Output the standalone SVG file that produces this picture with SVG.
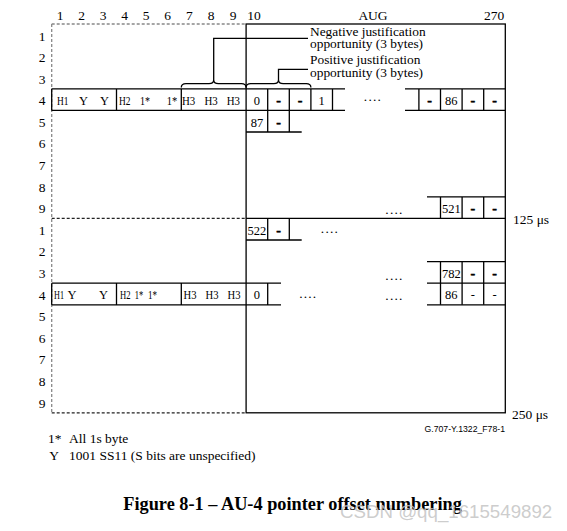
<svg xmlns="http://www.w3.org/2000/svg" width="567" height="531" viewBox="0 0 567 531">
<style>
text{font-family:"Liberation Serif","Times New Roman",serif;font-size:13.5px;fill:#000}
.c{text-anchor:middle;font-size:12.5px}
.h{font-size:12.5px}
.m{text-anchor:middle}
.b{font-weight:bold;font-size:14px;stroke:#000;stroke-width:0.5}
.ln{stroke:#000;stroke-width:1.3;fill:none}
.dg{stroke:#888;stroke-width:1.3;stroke-dasharray:3 2;fill:none}
.dk{stroke:#222;stroke-width:1.2;stroke-dasharray:3 2;fill:none}
.dots{text-anchor:middle;letter-spacing:1.2px}
.ann{font-size:13.4px}
</style>
<rect width="567" height="531" fill="#fff"/>

<g id="column-numbers">
<text class="m" x="60" y="20">1</text>
<text class="m" x="81.5" y="20">2</text>
<text class="m" x="103" y="20">3</text>
<text class="m" x="124.5" y="20">4</text>
<text class="m" x="146" y="20">5</text>
<text class="m" x="167.5" y="20">6</text>
<text class="m" x="189.3" y="20">7</text>
<text class="m" x="211" y="20">8</text>
<text class="m" x="233" y="20">9</text>
<text class="m" x="254" y="20">10</text>
<text class="m" x="373" y="20">AUG</text>
<text class="m" x="494" y="20">270</text>
</g>

<g id="row-numbers">
<text class="m" x="42" y="40.5">1</text>
<text class="m" x="42" y="62">2</text>
<text class="m" x="42" y="83.6">3</text>
<text class="m" x="42" y="105.2">4</text>
<text class="m" x="42" y="126.8">5</text>
<text class="m" x="42" y="148.4">6</text>
<text class="m" x="42" y="170">7</text>
<text class="m" x="42" y="191.6">8</text>
<text class="m" x="42" y="213.2">9</text>
<text class="m" x="42" y="234.8">1</text>
<text class="m" x="42" y="256.4">2</text>
<text class="m" x="42" y="278">3</text>
<text class="m" x="42" y="299.6">4</text>
<text class="m" x="42" y="321.2">5</text>
<text class="m" x="42" y="342.8">6</text>
<text class="m" x="42" y="364.4">7</text>
<text class="m" x="42" y="386">8</text>
<text class="m" x="42" y="407.6">9</text>
</g>

<g id="frame-outline">
<path class="dg" d="M51.7,24 H246.1 M51.7,24 V412.8"/>
<path class="dk" d="M51.7,218.4 H246.1 M51.7,412.8 H246.1"/>
<rect class="ln" x="246.1" y="24" width="259.2" height="388.8"/>
<path class="ln" d="M246.1,218.4 H505.3"/>
</g>

<g id="frame1-row4">
<path class="ln" d="M51.7,88.8 H345 M51.7,110.4 H345 M405,88.8 H505.3 M405,110.4 H505.3 M51.7,88.8 V110.4 M116.5,88.8 V110.4 M181.3,88.8 V110.4 M267.7,88.8 V110.4 M289.3,88.8 V110.4 M310.9,88.8 V110.4 M332.5,88.8 V110.4 M418.9,88.8 V110.4 M440.5,88.8 V110.4 M462.1,88.8 V110.4 M483.7,88.8 V110.4"/>
<text class="h" x="57" y="105" textLength="11.5" lengthAdjust="spacingAndGlyphs">H1</text>
<text class="c" x="83.5" y="105">Y</text>
<text class="c" x="104.5" y="105">Y</text>
<text class="h" x="119" y="105" textLength="11.5" lengthAdjust="spacingAndGlyphs">H2</text>
<text class="h" x="140" y="105" textLength="10" lengthAdjust="spacingAndGlyphs">1*</text>
<text class="h" x="166.7" y="105" textLength="10.5" lengthAdjust="spacingAndGlyphs">1*</text>
<text class="h" x="182" y="105" textLength="13.3" lengthAdjust="spacingAndGlyphs">H3</text>
<text class="h" x="204.5" y="105" textLength="13.3" lengthAdjust="spacingAndGlyphs">H3</text>
<text class="h" x="226.7" y="105" textLength="13.3" lengthAdjust="spacingAndGlyphs">H3</text>
<text class="c" x="256.9" y="105">0</text>
<text class="c b" x="278.5" y="105">-</text>
<text class="c b" x="300.1" y="105">-</text>
<text class="c" x="321.7" y="105">1</text>
<text class="dots" x="373" y="101">....</text>
<text class="c b" x="429.7" y="105">-</text>
<text class="c" x="451.3" y="105">86</text>
<text class="c b" x="472.9" y="105">-</text>
<text class="c b" x="494.5" y="105">-</text>
</g>

<g id="frame1-row5">
<path class="ln" d="M267.7,110.4 V132 M289.3,110.4 V132 M246.1,132 H301.7"/>
<text class="c" x="256.9" y="126.6">87</text>
<text class="c b" x="278.5" y="126.6">-</text>
</g>

<g id="frame1-row9">
<path class="ln" d="M427,196.8 H505.3 M440.5,196.8 V218.4 M462.1,196.8 V218.4 M483.7,196.8 V218.4"/>
<text class="dots" x="394.5" y="214">....</text>
<text class="c" x="451.3" y="213">521</text>
<text class="c b" x="472.9" y="213">-</text>
<text class="c b" x="494.5" y="213">-</text>
</g>

<g id="frame2-row1">
<path class="ln" d="M267.7,218.4 V240 M289.3,218.4 V240 M246.1,240 H301.7"/>
<text class="c" x="256.9" y="234.6">522</text>
<text class="c b" x="278.5" y="234.6">-</text>
<text class="dots" x="330" y="233">....</text>
</g>

<g id="frame2-row3">
<path class="ln" d="M427,261.6 H505.3 M440.5,261.6 V304.8 M462.1,261.6 V304.8 M483.7,261.6 V304.8"/>
<text class="dots" x="394.5" y="279.5">....</text>
<text class="c" x="451.3" y="277.8">782</text>
<text class="c b" x="472.9" y="277.8">-</text>
<text class="c b" x="494.5" y="277.8">-</text>
</g>

<g id="frame2-row4">
<path class="ln" d="M51.7,283.2 H281 M51.7,304.8 H281 M427,283.2 H505.3 M427,304.8 H505.3 M51.7,283.2 V304.8 M116.5,283.2 V304.8 M181.3,283.2 V304.8 M267.7,283.2 V304.8"/>
<text class="h" x="54" y="299.2" textLength="10" lengthAdjust="spacingAndGlyphs">H1</text>
<text class="c" x="72" y="299.2">Y</text>
<text class="c" x="103.5" y="299.2">Y</text>
<text class="h" x="120" y="299.2" textLength="10.5" lengthAdjust="spacingAndGlyphs">H2</text>
<text class="h" x="134.8" y="299.2" textLength="8.5" lengthAdjust="spacingAndGlyphs">1*</text>
<text class="h" x="148" y="299.2" textLength="9" lengthAdjust="spacingAndGlyphs">1*</text>
<text class="h" x="183.5" y="299.2" textLength="13" lengthAdjust="spacingAndGlyphs">H3</text>
<text class="h" x="205.5" y="299.2" textLength="13" lengthAdjust="spacingAndGlyphs">H3</text>
<text class="h" x="227.5" y="299.2" textLength="13" lengthAdjust="spacingAndGlyphs">H3</text>
<text class="c" x="256.9" y="299.2">0</text>
<text class="dots" x="308.3" y="298">....</text>
<text class="dots" x="394.5" y="299.5">....</text>
<text class="c" x="451.3" y="299">86</text>
<text class="c" x="472.9" y="299.2">-</text>
<text class="c" x="494.5" y="299.2">-</text>
</g>

<g id="connectors">
<path class="ln" d="M181.3,87.5 Q181.3,83.6 186,83.6 H209 Q213.7,83.6 213.7,80 Q213.7,83.6 218.4,83.6 H241.4 Q246.1,83.6 246.1,87.5"/>
<path class="ln" d="M246.1,87.5 Q246.1,83.6 250.8,83.6 H273.8 Q278.5,83.6 278.5,80 Q278.5,83.6 283.2,83.6 H306.2 Q310.9,83.6 310.9,87.5"/>
<path class="ln" d="M213.7,80 V38.3 H308"/>
<path class="ln" d="M278.5,80 V69.3 H308"/>
</g>

<g id="annotations">
<text class="ann" x="310" y="35.8">Negative justification</text>
<text class="ann" x="310" y="48">opportunity (3 bytes)</text>
<text class="ann" x="310" y="64.3">Positive justification</text>
<text class="ann" x="310" y="76.8">opportunity (3 bytes)</text>
<text x="513" y="224">125 μs</text>
<text x="512" y="419">250 μs</text>
<text x="505" y="431.7" style="font-family:'Liberation Sans',Arial,sans-serif;font-size:8.7px;text-anchor:end">G.707-Y.1322_F78-1</text>
</g>

<g id="legend">
<text x="48" y="443">1*</text>
<text x="69" y="443">All 1s byte</text>
<text x="49.3" y="460">Y</text>
<text x="69" y="460">1001 SS11 (S bits are unspecified)</text>
</g>

<g id="caption">
<text x="123.3" y="510" style="font-weight:bold;font-size:18.3px">Figure 8-1 – AU-4 pointer offset numbering</text>
<text x="340" y="518" style="font-family:'Liberation Sans',Arial,sans-serif;font-size:18.7px;fill:#c4c4c4;fill-opacity:0.85">CSDN @qq_1615549892</text>
</g>
</svg>
